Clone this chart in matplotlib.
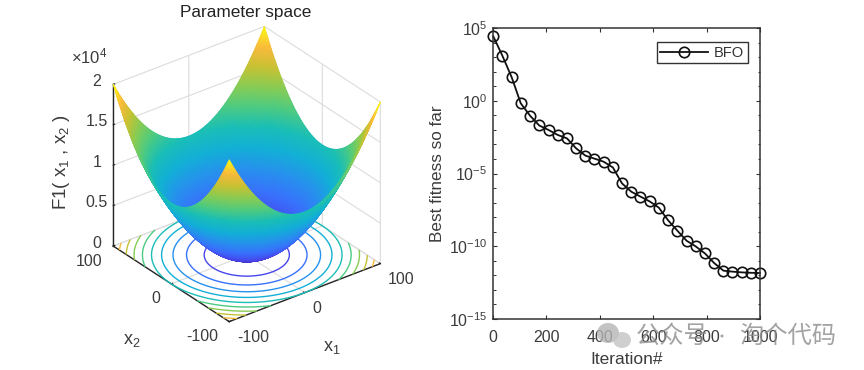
import numpy as np
import matplotlib
matplotlib.use('Agg')
import matplotlib.pyplot as plt
from matplotlib.colors import LinearSegmentedColormap
from matplotlib.patches import Ellipse
from matplotlib.transforms import Affine2D
from matplotlib.ticker import FixedLocator, NullFormatter, LogFormatterMathtext

plt.rcParams['font.family'] = ['Liberation Sans', 'DejaVu Sans']
plt.rcParams['mathtext.fontset'] = 'custom'
plt.rcParams['mathtext.rm'] = 'Liberation Sans'
plt.rcParams['mathtext.it'] = 'Liberation Sans'
plt.rcParams['mathtext.default'] = 'regular'
plt.rcParams['axes.unicode_minus'] = False

TXT = '#3c3c3c'

# ---- data ----
iterations = [1, 35, 70, 104, 139, 173, 208, 242, 277, 311, 346, 380, 414, 449, 483,
              518, 552, 587, 621, 656, 690, 725, 759, 794, 828, 863, 897, 932, 966, 1000]
best_fitness = [2.7e4, 1.26e3, 41, 0.66, 0.093, 0.020, 9.8e-3, 4.5e-3, 2.6e-3, 5.4e-4,
                1.7e-4, 1.05e-4, 6.5e-5, 2.6e-5, 2.1e-6, 5.6e-7, 2.6e-7, 1.2e-7, 4.5e-8,
                6.0e-9, 1.2e-9, 2.4e-10, 9.8e-11, 3.2e-11, 7.1e-12, 2.1e-12, 1.8e-12,
                1.6e-12, 1.5e-12, 1.45e-12]
xticks_conv = [0, 200, 400, 600, 800, 1000]
yticks_conv = [1e-15, 1e-10, 1e-5, 1e0, 1e5]
yminor_conv = [10.0 ** e for e in range(-15, 6)]
grid_x1 = np.arange(-100, 101, 2)
grid_x2 = np.arange(-100, 101, 2)
contour_levels = [2000, 4000, 6000, 8000, 10000, 12000, 14000, 16000, 18000]
ticks_x = [-100, 0, 100]
ticks_z = [0, 5000, 10000, 15000, 20000]
ticklabels_z = ['0', '0.5', '1', '1.5', '2']

parula = LinearSegmentedColormap.from_list('parula', [
    (.2422, .1504, .6603), (.2780, .2800, .9300), (.2200, .4450, .9900),
    (.1500, .5700, .9300), (.0700, .6900, .8400), (.1000, .7450, .7200),
    (.3000, .7950, .5100), (.5300, .8000, .3300), (.7800, .7600, .2000),
    (.9800, .7300, .2300), (.9770, .9800, .0800)], N=256)

W, H = 864, 370
fig = plt.figure(figsize=(W / 100, H / 100), dpi=100, facecolor='white')


def nudge(label, dx, dy):
    """Shift a 3D tick label by a few pixels at draw time."""
    base = label.get_transform
    off = Affine2D().translate(dx, dy)
    label.get_transform = lambda: base() + off


# ---- left: surface ----
ax = fig.add_axes([0.01 + 8.5 / W, 6 / H, 0.52, 1.0], projection='3d', proj_type='ortho',
                  computed_zorder=False, facecolor='none')
ax.view_init(elev=30, azim=-127.5)
ax.set_box_aspect((1, 1, 0.98), zoom=0.86)
X, Y = np.meshgrid(grid_x1, grid_x2)
Z = X ** 2 + Y ** 2
ax.contour(X, Y, Z, levels=contour_levels, zdir='z', offset=0, cmap=parula,
           vmin=0, vmax=20000, linewidths=1.0, zorder=1)
surf = ax.plot_surface(X, Y, Z, cmap=parula, vmin=0, vmax=20000, rstride=1, cstride=1,
                       linewidth=0.7, antialiased=True, shade=False, zorder=2)
surf.set_edgecolor('face')
ax.set_xlim(-100, 100); ax.set_ylim(-100, 100); ax.set_zlim(0, 20000)
ax.set_xticks(ticks_x); ax.set_yticks(ticks_x); ax.set_zticks(ticks_z)
ax.set_zticklabels(ticklabels_z)
for a in (ax.xaxis, ax.yaxis, ax.zaxis):
    a.set_pane_color((1, 1, 1, 0))
    a.pane.set_edgecolor('#d9d9d9')
    a.line.set_color('#262626')
    a.line.set_linewidth(1.0)
    a._axinfo['grid'].update(color='#dcdcdc', linewidth=0.8)
    a._axinfo['tick'].update(inward_factor=0.0, outward_factor=0.12)
    a.set_rotate_label(False)
ax.tick_params(labelsize=11.5, labelcolor=TXT, color='#262626', pad=0)
for t in ax.xaxis.get_major_ticks():
    t.label1.set_ha('left')
    nudge(t.label1, 1, 5)
for t in ax.yaxis.get_major_ticks():
    t.label1.set_ha('right')
    nudge(t.label1, -2, 5)
for t in ax.zaxis.get_major_ticks():
    nudge(t.label1, -1, 9.5)
ax.set_xlabel('x$_1$', fontsize=13, color=TXT, labelpad=11)
ax.set_ylabel('x$_2$', fontsize=13, color=TXT, labelpad=15)
ax.set_zlabel('F1( x$_1$ , x$_2$ )', fontsize=13.5, color=TXT, rotation=90, labelpad=6)
fig.text(246 / W, 1 - 13 / H, 'Parameter space', ha='center', va='center',
         fontsize=12.4, color='#222222')
fig.text(71 / W, 1 - 56 / H, r'$\times$10$^{4}$', ha='left', va='center',
         fontsize=12, color=TXT)

# ---- right: convergence ----
ax2 = fig.add_axes([493 / W, 1 - 319 / H, 267 / W, 291 / H])
ax2.semilogy(iterations, best_fitness, '-o', color='#111111', lw=1.3, ms=7.5,
             mfc='none', mew=1.2, label='BFO', clip_on=False)
ax2.set_xlim(0, 1000); ax2.set_ylim(1e-15, 1e5)
ax2.set_xticks(xticks_conv)
ax2.yaxis.set_major_locator(FixedLocator(yticks_conv))
ax2.yaxis.set_major_formatter(LogFormatterMathtext())
ax2.yaxis.set_minor_locator(FixedLocator(yminor_conv))
ax2.yaxis.set_minor_formatter(NullFormatter())
ax2.tick_params(which='major', direction='in', top=True, right=True, length=3,
                width=0.8, labelsize=11.5, labelcolor=TXT, color='#333333', pad=4)
ax2.tick_params(axis='x', which='major', pad=8)
ax2.tick_params(which='minor', direction='in', left=True, right=True, length=1.8,
                width=0.7, color='#333333')
for s in ax2.spines.values():
    s.set_linewidth(1.1); s.set_color('#333333')
ax2.set_xlabel('Iteration#', fontsize=12.5, color=TXT, labelpad=5)
ax2.set_ylabel('Best fitness so far', fontsize=12.3, color=TXT, labelpad=3)
leg = ax2.legend(loc='upper right', bbox_to_anchor=(0.955, 0.952), borderaxespad=0,
                 fontsize=10.5, fancybox=False, framealpha=1, edgecolor='#333333',
                 handlelength=3.3, handletextpad=0.4, borderpad=0.25)
leg.get_frame().set_linewidth(1.0)
for t in leg.get_texts():
    t.set_color('#333333')

# ---- watermark ----
wm = '#8c8c8c'
cjk = ['Noto Sans CJK SC', 'DejaVu Sans']
fig.text(672 / W, 1 - 336 / H, '公众号', family=cjk, ha='center', va='center',
         fontsize=17.5, color=wm, alpha=0.8)
fig.text(788 / W, 1 - 336 / H, '淘个代码', family=cjk, ha='center', va='center',
         fontsize=17.5, color=wm, alpha=0.8)
fig.add_artist(Ellipse((608 / W, 1 - 333 / H), 22 / W, 20 / H, transform=fig.transFigure,
                       fc='#b5b5b5', ec='none', alpha=0.8))
fig.add_artist(Ellipse((622 / W, 1 - 340 / H), 18 / W, 16 / H, transform=fig.transFigure,
                       fc='#c4c4c4', ec='none', alpha=0.8))
fig.add_artist(Ellipse((722 / W, 1 - 336 / H), 3 / W, 3 / H, transform=fig.transFigure,
                       fc=wm, ec='none', alpha=0.8))

fig.savefig('out.png', dpi=100, facecolor='white')
